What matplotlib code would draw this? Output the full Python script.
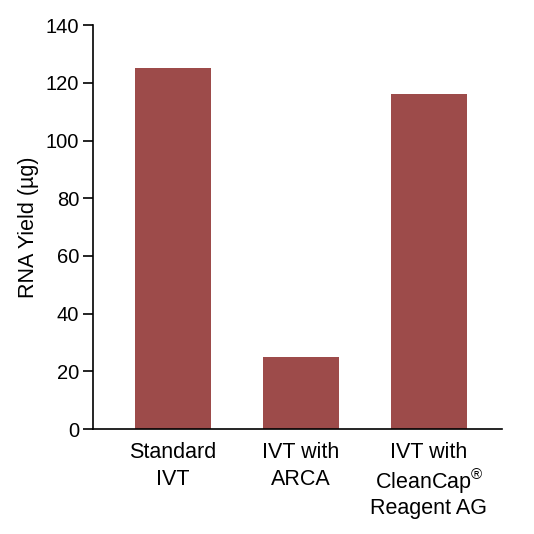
import matplotlib
matplotlib.use("Agg")
import matplotlib.pyplot as plt

categories = ["Standard\nIVT", "IVT with\nARCA", "IVT with\nCleanCap$^{®}$\nReagent AG"]
yields = [125, 25, 116.2]
yticks = [0, 20, 40, 60, 80, 100, 120, 140]

plt.rcParams['font.family'] = ['Liberation Sans', 'DejaVu Sans']
plt.rcParams['mathtext.fontset'] = 'custom'
plt.rcParams['mathtext.rm'] = 'Liberation Sans'
plt.rcParams['mathtext.it'] = 'Liberation Sans'

fig = plt.figure(figsize=(5.34, 5.34), dpi=100)
ax = fig.add_axes([0.174, 0.1966, 0.766, 0.7564])
x = list(range(len(categories)))
ax.bar(x, yields, width=0.59, color="#9D4B4A")
ax.set_xlim(-0.625, 2.57)
ax.set_ylim(0, 140)
ax.set_yticks(yticks)
ax.set_xticks(x)
labels = ax.set_xticklabels(categories, fontsize=15.5, va='top')
for lab, ls in zip(labels, [1.43, 1.43, 1.17]):
    lab.set_linespacing(ls)
ax.tick_params(axis='x', length=0, pad=9)
ax.tick_params(axis='y', length=7, width=1.2, labelsize=14.5, pad=3)
for s in ['top', 'right']:
    ax.spines[s].set_visible(False)
for s in ['left', 'bottom']:
    ax.spines[s].set_linewidth(1.2)
ax.set_ylabel("RNA Yield (µg)", fontsize=15.5, labelpad=5)
fig.savefig("out.png", dpi=100)
